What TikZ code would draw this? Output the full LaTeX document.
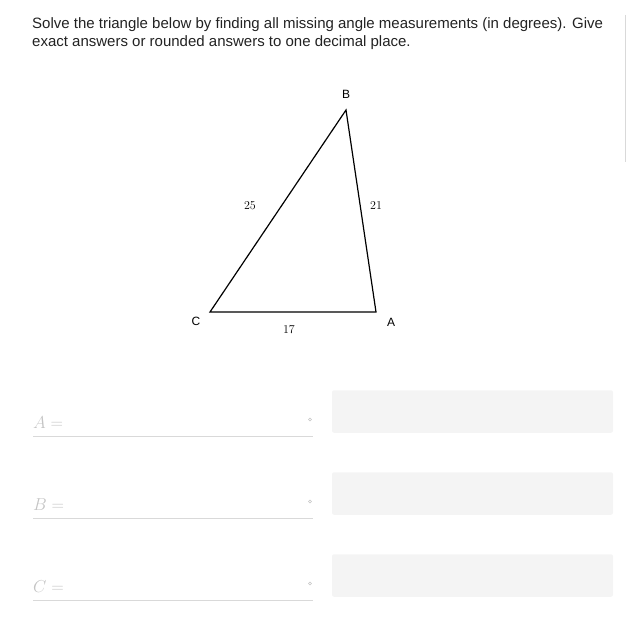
\documentclass[tikz,border=0pt]{standalone}
\usepackage{fontspec}
\setmainfont{Liberation Sans}
\usetikzlibrary{calc}
\definecolor{textgray}{HTML}{222222}
\definecolor{fieldgray}{HTML}{F4F4F4}
\definecolor{rulegray}{HTML}{D9D9D9}
\definecolor{hintgray}{HTML}{C4C4C4}
\tikzstyle{question} = [anchor=base west,inner sep=0pt,text=textgray,font=\fontsize{15}{18}\selectfont]
\tikzstyle{vertexlabel} = [inner sep=0pt,font=\fontsize{12}{14}\selectfont]
\tikzstyle{sidelabel} = [inner sep=0pt,font=\fontsize{12}{14}\selectfont]
\tikzstyle{side} = [draw,line width=1.2pt,line join=miter]
\tikzstyle{hint} = [anchor=base west,inner sep=0pt,text=hintgray,font=\fontsize{16}{18}\selectfont]
\tikzstyle{underline} = [draw=rulegray,line width=1pt]
\tikzstyle{answerbox} = [fill=fieldgray,rounded corners=2pt,minimum width=281pt,minimum height=42.5pt,inner sep=0pt]

\begin{document}
\begin{tikzpicture}[x=1pt,y=-1pt]
    \useasboundingbox (0,0) rectangle (627,628);
    % question text
    \node[question] (line1) at (32,29) {Solve the triangle below by finding all missing angle measurements (in degrees). Give};
    \node[question] (line2) at (32,47) {exact answers or rounded answers to one decimal place.};
    \coordinate (bartop) at (625.5,15);
    \coordinate (barbot) at (625.5,162);
    \draw[rulegray,line width=1pt] (bartop) -- (barbot);

    % the triangle
    \coordinate (B) at (346,110);
    \coordinate (C) at (210,312);
    \coordinate (A) at (376,312);
    \path[side] (C) -- (A) -- (B) -- cycle;
    \foreach \pos/ \name in {{(346,94)/B},{(196,321)/C},{(391,322)/A}}
        \node[vertexlabel] (lab\name) at \pos {\name};
    \foreach \pos/ \name/ \len in {{(250,206)/CB/25},{(376,206)/AB/21},{(289,330)/CA/17}}
        \node[sidelabel] (len\name) at \pos {$\len$};

    % answer rows
    \foreach \y/ \name in {428/A, 510/B, 592/C} {
        \node[hint] (hint\name) at (33,\y) {$\name =$};
        \coordinate (ruleL\name) at (33,\y+8.5);
        \coordinate (ruleR\name) at (313,\y+8.5);
        \path[underline] (ruleL\name) -- (ruleR\name);
        \node[circle,draw=hintgray,line width=0.5pt,inner sep=0pt,minimum size=3pt] (dot\name) at (310,\y-8.5) {};
        \node[answerbox] (box\name) at (472.5,\y-16.5) {};
    }
\end{tikzpicture}
\end{document}
